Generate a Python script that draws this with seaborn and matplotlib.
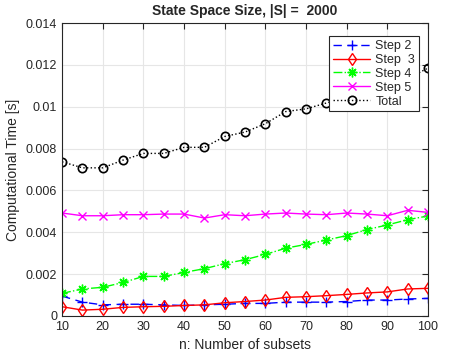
import matplotlib
matplotlib.use("Agg")
import matplotlib.pyplot as plt
import seaborn as sns
import pandas as pd

# data
n_subsets = [10, 15, 20, 25, 30, 35, 40, 45, 50, 55, 60, 65, 70, 75, 80, 85, 90, 95, 100]
step2 = [0.95, 0.66, 0.53, 0.56, 0.56, 0.53, 0.50, 0.53, 0.56, 0.60, 0.60, 0.66, 0.66, 0.66, 0.69, 0.76, 0.76, 0.81, 0.84]
step3 = [0.44, 0.28, 0.32, 0.41, 0.44, 0.46, 0.50, 0.53, 0.63, 0.69, 0.76, 0.89, 0.92, 0.97, 1.03, 1.10, 1.15, 1.29, 1.32]
step4 = [1.08, 1.29, 1.37, 1.60, 1.89, 1.89, 2.08, 2.26, 2.50, 2.69, 2.94, 3.24, 3.42, 3.63, 3.84, 4.13, 4.35, 4.60, 4.78]
step5 = [4.92, 4.79, 4.79, 4.84, 4.84, 4.87, 4.87, 4.68, 4.84, 4.79, 4.87, 4.92, 4.87, 4.84, 4.92, 4.87, 4.79, 5.05, 4.95]
total = [7.37, 7.08, 7.08, 7.45, 7.77, 7.77, 8.06, 8.06, 8.58, 8.79, 9.19, 9.77, 9.90, 10.18, 10.45, 10.75, 11.05, 11.35, 11.85]

x_ticks = [10, 20, 30, 40, 50, 60, 70, 80, 90, 100]
y_ticks = [0, 0.002, 0.004, 0.006, 0.008, 0.01, 0.012, 0.014]
y_ticklabels = ["0", "0.002", "0.004", "0.006", "0.008", "0.01", "0.012", "0.014"]

df = pd.DataFrame({
    "n": n_subsets,
    "Step 2": [v * 1e-3 for v in step2],
    "Step  3": [v * 1e-3 for v in step3],
    "Step 4": [v * 1e-3 for v in step4],
    "Step 5": [v * 1e-3 for v in step5],
    "Total": [v * 1e-3 for v in total],
})

sns.set_style("white")
plt.rcParams["font.family"] = ["Liberation Sans", "DejaVu Sans"]

fig = plt.figure(figsize=(4.74, 3.55), dpi=100)
ax = fig.add_axes([0.131, 0.110, 0.772, 0.825])

styles = {
    "Step 2": dict(color="#0000ff", linestyle=(0, (6, 4)), marker="+", markersize=7, markeredgewidth=1.0),
    "Step  3": dict(color="#ff0000", linestyle="-", marker="d", markersize=6, markerfacecolor="none", markeredgewidth=1.0),
    "Step 4": dict(color="#00ff00", linestyle="-.", marker=(8, 2, 0), markersize=7, markeredgewidth=1.0),
    "Step 5": dict(color="#ff00ff", linestyle="-", marker="x", markersize=6, markeredgewidth=1.0),
    "Total": dict(color="black", linestyle=":", marker="o", markersize=6, markerfacecolor="none", markeredgewidth=1.2),
}

for name, st in styles.items():
    sns.lineplot(data=df, x="n", y=name, ax=ax, label=name, linewidth=1.0,
                 markeredgecolor=st["color"], **st)

ax.set_xlim(10, 100)
ax.set_ylim(0, 0.014)
ax.set_xticks(x_ticks)
ax.set_yticks(y_ticks)
ax.set_yticklabels(y_ticklabels)
ax.tick_params(direction="in", length=4, labelsize=9, top=True, right=True)
ax.grid(True, color="#e6e6e6", linewidth=0.8)
for sp in ax.spines.values():
    sp.set_color("#262626")
    sp.set_linewidth(0.8)

ax.set_title("State Space Size, |S| =  2000", fontsize=10, fontweight="bold")
ax.set_xlabel("n: Number of subsets", fontsize=10)
ax.set_ylabel("Computational Time [s]", fontsize=10)

leg = ax.legend(loc="upper right", fontsize=9, frameon=True, fancybox=False, framealpha=1,
                edgecolor="#262626", handlelength=3.0, handletextpad=0.4, borderpad=0.3,
                labelspacing=0.15, borderaxespad=0, bbox_to_anchor=(0.975, 0.955))
leg.get_frame().set_linewidth(0.8)
leg.set_zorder(10)

fig.savefig("out.png", dpi=100)
